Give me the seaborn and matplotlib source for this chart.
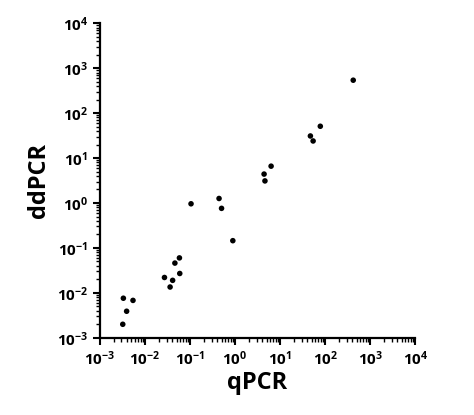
import matplotlib
matplotlib.use("Agg")
import matplotlib.pyplot as plt
import pandas as pd
import seaborn as sns
from matplotlib.ticker import LogLocator, NullFormatter

qpcr = [0.0033, 0.0039, 0.0054, 0.0032, 0.027, 0.036, 0.041, 0.046, 0.058, 0.059,
        0.105, 0.44, 0.50, 0.89, 4.4, 4.6, 6.3, 47, 54, 78, 420]
ddpcr = [0.0076, 0.0039, 0.0068, 0.0020, 0.022, 0.0135, 0.019, 0.046, 0.060, 0.027,
         0.96, 1.26, 0.76, 0.145, 4.4, 3.1, 6.6, 31, 24, 51, 540]


def main() -> None:
    df = pd.DataFrame({"qPCR": qpcr, "ddPCR": ddpcr})
    sns.set_theme(style="ticks")
    plt.rcParams["font.family"] = ["Open Sans", "DejaVu Sans"]
    plt.rcParams["text.color"] = "black"
    plt.rcParams["axes.labelcolor"] = "black"

    fig = plt.figure(figsize=(4.74, 4.15), dpi=100)
    ax = fig.add_axes([0.211, 0.186, 0.665, 0.758])
    sns.scatterplot(data=df, x="qPCR", y="ddPCR", color="black", s=16,
                    edgecolor="none", ax=ax)
    ax.set_xscale("log")
    ax.set_yscale("log")
    ax.set_xlim(1e-3, 1e4)
    ax.set_ylim(1e-3, 1e4)
    for axis in (ax.xaxis, ax.yaxis):
        axis.set_major_locator(LogLocator(base=10, numticks=20))
        axis.set_minor_locator(LogLocator(base=10, subs=range(2, 10), numticks=100))
        axis.set_minor_formatter(NullFormatter())
    sns.despine(ax=ax)
    for sp in ("left", "bottom"):
        ax.spines[sp].set_linewidth(1.6)
        ax.spines[sp].set_color("black")
    ax.tick_params(which="major", length=5, width=1.5, labelsize=11,
                   colors="black", labelcolor="black")
    ax.tick_params(which="minor", length=3, width=1, colors="black")
    for lab in ax.get_xticklabels() + ax.get_yticklabels():
        lab.set_fontweight("bold")
    ax.set_xlabel("qPCR", fontsize=17, fontweight="bold", labelpad=2, color="black")
    ax.set_ylabel("ddPCR", fontsize=17, fontweight="bold", labelpad=4, color="black")
    fig.savefig("out.png", dpi=100)
    plt.close(fig)


if __name__ == "__main__":
    main()
